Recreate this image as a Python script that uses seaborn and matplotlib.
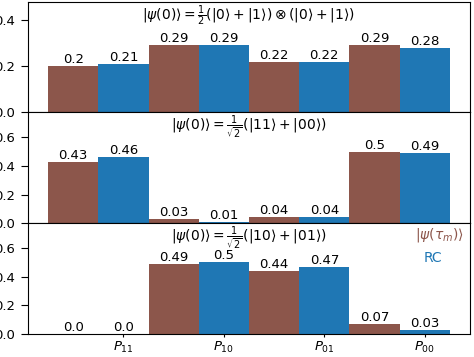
import pandas as pd
import matplotlib.pyplot as plt
import seaborn as sns

states = ['P11', 'P10', 'P01', 'P00']
tick_labels = [r'$P_{11}$', r'$P_{10}$', r'$P_{01}$', r'$P_{00}$']
series = [r'$|\psi(\tau_m)\rangle$', 'RC']
titles = [r'$|\psi(0)\rangle = \frac{1}{2}(|0\rangle + |1\rangle) \otimes (|0\rangle + |1\rangle)$',
          r'$|\psi(0)\rangle = \frac{1}{\sqrt{2}}(|11\rangle + |00\rangle)$',
          r'$|\psi(0)\rangle = \frac{1}{\sqrt{2}}(|10\rangle + |01\rangle)$']

# probabilities, one list per panel and series
psi_vals = [[0.2, 0.29, 0.22, 0.29],
            [0.43, 0.03, 0.04, 0.5],
            [0.0, 0.49, 0.44, 0.07]]
rc_vals = [[0.21, 0.29, 0.22, 0.28],
           [0.46, 0.01, 0.04, 0.49],
           [0.0, 0.5, 0.47, 0.03]]
ytops = [0.48, 0.775, 0.775]

colors = ['#8c564b', '#1f77b4']

fig, axes = plt.subplots(3, 1, sharex=True, figsize=(4.74, 3.57), dpi=100)
fig.subplots_adjust(left=28/474, right=470/474, top=1-1.5/357, bottom=1-334/357, hspace=0)

for i, ax in enumerate(axes):
    d = pd.DataFrame({'state': states * 2,
                      'prob': psi_vals[i] + rc_vals[i],
                      'series': [series[0]] * 4 + [series[1]] * 4})
    sns.barplot(data=d, x='state', y='prob', hue='series', order=states,
                hue_order=series, palette=colors, width=1.0, saturation=1,
                legend=False, ax=ax)
    for c in ax.containers:
        vals = [b.get_height() for b in c]
        ax.bar_label(c, labels=[str(round(v, 2)) for v in vals], padding=0, fontsize=9.5)
    ax.set_ylim(0, ytops[i])
    ax.set_xlabel('')
    ax.set_ylabel('')
    ax.tick_params(axis='y', labelsize=9.5, length=5, pad=4.5)
    ax.text(0.5, 0.985, titles[i], transform=ax.transAxes, ha='center', va='top', fontsize=10)

axes[2].set_xlim(-0.7, 3.7)
axes[2].set_xticks([k + 0.25 for k in range(4)])
axes[2].set_xticklabels(tick_labels, fontsize=9.5)
axes[2].tick_params(axis='x', length=2.5, pad=2)
axes[0].set_yticks([0.0, 0.2, 0.4])
for ax in axes[1:]:
    ax.set_yticks([0.0, 0.2, 0.4, 0.6])

axes[2].text(0.932, 0.89, series[0], color=colors[0], transform=axes[2].transAxes,
             ha='center', va='center', fontsize=10)
axes[2].text(0.916, 0.686, series[1], color=colors[1], transform=axes[2].transAxes,
             ha='center', va='center', fontsize=10)

plt.savefig('out.png', dpi=100)
